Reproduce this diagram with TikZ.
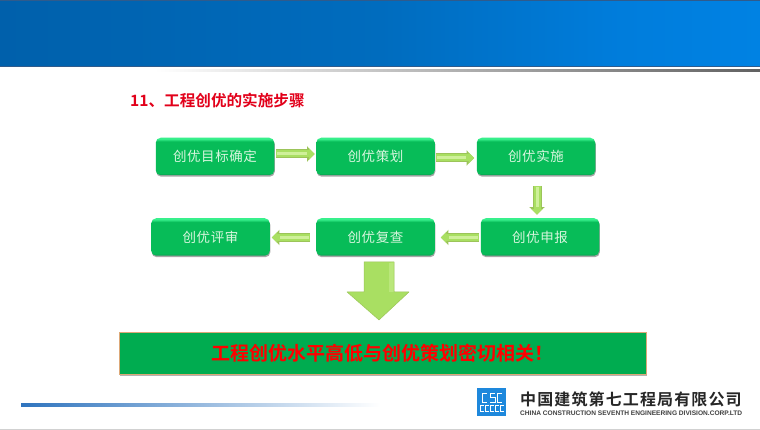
\documentclass[tikz,border=0pt]{standalone}
\usepackage{fontspec}
\usetikzlibrary{shadows,arrows.meta,calc}
\newfontfamily\cjkreg[LetterSpace=4]{Noto Sans CJK SC}
\newfontfamily\cjkbold[BoldFont=*]{Noto Sans CJK SC Bold}
\newfontfamily\cjkwide[LetterSpace=7]{Noto Sans CJK SC Bold}
\setmainfont{Liberation Sans}
\definecolor{boxmain}{HTML}{07BC58}
\definecolor{boxlight}{HTML}{38F08C}
\definecolor{boxdark}{HTML}{0A9A50}
\definecolor{boxtext}{HTML}{D8F6DE}
\definecolor{arrowedge}{HTML}{9CC45A}
\definecolor{arrowfill}{HTML}{A9DF62}
\definecolor{arrowhi}{HTML}{CFF09A}
\definecolor{heada}{HTML}{0060AB}
\definecolor{headb}{HTML}{006CBE}
\definecolor{headc}{HTML}{007DDC}
\definecolor{headd}{HTML}{0082E3}
\pgfdeclareverticalshading{boxshade}{100bp}{color(0bp)=(boxdark); color(25bp)=(boxdark); color(28bp)=(boxmain); color(70bp)=(boxmain); color(73.5bp)=(boxlight); color(75bp)=(boxlight); color(100bp)=(boxlight)}
\pgfdeclarehorizontalshading{headshade}{100bp}{color(0bp)=(heada); color(25bp)=(heada); color(50bp)=(headb); color(66bp)=(headc); color(75bp)=(headd); color(100bp)=(headd)}
\tikzset{
  stepbox/.style={rounded corners=5pt, minimum width=118.5pt, minimum height=37.5pt, inner sep=0pt,
    shading=boxshade, text=boxtext, font=\cjkreg\fontsize{13.5}{16}\selectfont,
    drop shadow={shadow xshift=0.5pt, shadow yshift=-1.5pt, opacity=.35, fill=black}},
  flowbody/.style={line width=9pt, draw=arrowedge, -{Triangle[length=7.5pt,width=15pt]}},
  flowcore/.style={line width=7pt, draw=arrowfill, -{Triangle[length=5.5pt,width=11pt]}},
  flowhi/.style={line width=3pt, draw=arrowhi, shorten >=8pt, shorten <=1pt},
  bannerbox/.style={draw=bannerline, fill=bannerfill, line width=.8pt, minimum width=527pt, minimum height=42pt, inner sep=0pt,
    text=red, font=\cjkbold\fontsize{19}{22}\selectfont,
    drop shadow={shadow xshift=0.5pt, shadow yshift=-1.5pt, opacity=.3, fill=black}},
  logobar/.style={draw=white, line width=1pt}
}
\definecolor{bannerfill}{HTML}{00AC50}
\definecolor{bannerline}{HTML}{DCA878}
\definecolor{headedge}{HTML}{2F5B8C}
\definecolor{titlered}{HTML}{E2001A}
\definecolor{logoblue}{HTML}{1E88DC}
\definecolor{footblue}{HTML}{2F74BE}
\newcommand{\flowconn}[4]{% from, to, from shift, to shift
  \draw[flowbody] ([shift={#3}]#1) -- ([shift={#4}]#2);
  \draw[flowcore] ([shift={#3}]#1) -- ([shift={#4}]#2);
  \draw[flowhi] ([shift={#3}]#1) -- ([shift={#4}]#2);
}
\begin{document}
\begin{tikzpicture}[x=1pt,y=-1pt]
\useasboundingbox (0,0) rectangle (760,430);
\fill[white] (0,0) rectangle (760,430);
% header
\shade[shading=headshade] (0,0) rectangle (760,66.5);
\draw[headedge, line width=.8pt] (0,.4) -- (760,.4);
\draw[headedge, line width=.8pt] (0,66.3) -- (760,66.3);
\shade[left color=white, right color=black!62] (155,69.5) rectangle (760,72);
% title
\node[anchor=west, text=titlered, inner sep=0pt, font=\cjkbold\fontsize{15.6}{18}\selectfont] (title) at (130,100) {11、工程创优的实施步骤};
% boxes
\node[stepbox] (a) at (215,156.5) {创优目标确定};
\node[stepbox] (b) at (375.5,156.5) {创优策划};
\node[stepbox] (c) at (536,156.5) {创优实施};
\node[stepbox] (d) at (540,237) {创优申报};
\node[stepbox] (e) at (375.5,237) {创优复查};
\node[stepbox] (f) at (210.5,237) {创优评审};
% small arrows
\flowconn{a.east}{b.west}{(1.5,-2.5)}{(-1.5,-2.5)}
\flowconn{b.east}{c.west}{(1.5,1.5)}{(-2.5,1.5)}
\flowconn{c.south}{d.north}{(1,10.5)}{(-3,-3.5)}
\flowconn{d.west}{e.east}{(-2,.5)}{(6,.5)}
\flowconn{e.west}{f.east}{(-6,.5)}{(2,.5)}
% big arrow
\coordinate (bigtop) at ($(e.south)+(3.5,6)$);
\node[bannerbox] (banner) at (382.5,353) {工程创优水平高低与创优策划密切相关！};
\path[fill=arrowfill, draw=arrowedge, line width=.5pt, line join=round] (bigtop) ++(-15,0) -- ++(30,0) -- ++(0,30) -- ++(15,0) -- ($(bigtop)+(0,58)$) -- ($(bigtop)+(-32,30)$) -- ++(17,0) -- cycle;
\fill[arrowhi!45!arrowfill] ($(bigtop)+(10,1)$) -- ($(bigtop)+(14.5,.5)$) -- ($(bigtop)+(14.5,30)$) -- ($(bigtop)+(10,30)$) -- cycle;
% footer
\shade[left color=footblue, right color=white] (21,403.5) rectangle (380,406);
\draw[black!18, line width=.8pt] (0,429.6) -- (760,429.6);
% logo
\fill[logoblue] (476.5,388) rectangle (506,416);
\draw[logobar] (487,393) -- (482.5,393) -- (482.5,402) -- (487,402);
\draw[logobar] (495,393) -- (490,393) -- (490,397.5) -- (495,397.5) -- (495,402) -- (490,402);
\draw[logobar] (502,393) -- (497.5,393) -- (497.5,402) -- (502,402);
\foreach \xx in {480.5,485.5,490.5,495.5,500.5}{
  \draw[draw=white, line width=.9pt] (\xx+3,405) -- (\xx,405) -- (\xx,411) -- (\xx+3,411);
}
% company name
\node[anchor=west, inner sep=0pt, text=black!85, font=\cjkwide\fontsize{16}{18}\selectfont] (cn) at (520,399) {中国建筑第七工程局有限公司};
\node[anchor=west, inner sep=0pt, text=black!75, font=\bfseries\fontsize{6.6}{7}\selectfont] (en) at (520,413) {CHINA CONSTRUCTION SEVENTH ENGINEERING DIVISION.CORP.LTD};
\end{tikzpicture}
\end{document}
